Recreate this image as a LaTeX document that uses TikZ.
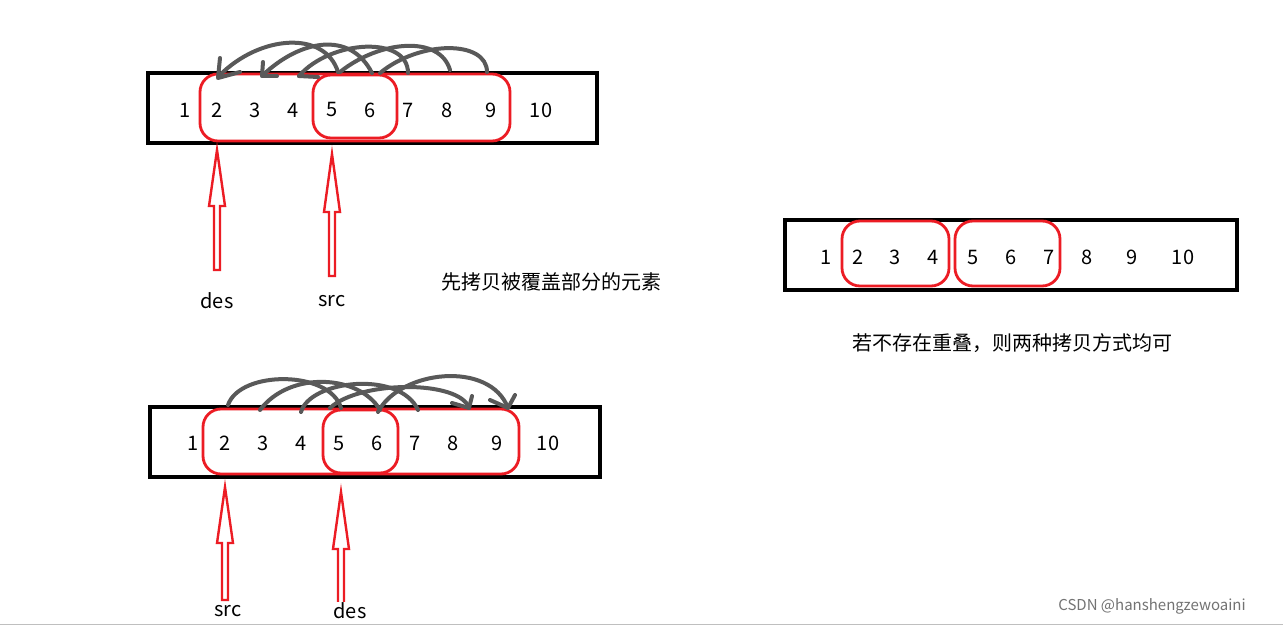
\documentclass[tikz,border=0pt]{standalone}
\usepackage{fontspec}
\setmainfont{Noto Sans CJK SC}
\definecolor{rd}{HTML}{EC1C24}
\begin{document}
\begin{tikzpicture}[x=1pt,y=-1pt,
  num/.style={font=\fontsize{20}{20}\selectfont,inner sep=0pt},
  lab/.style={font=\fontsize{20}{20}\selectfont,inner sep=0pt},
  arr/.style={black,line width=3.5pt},
  grp/.style={draw=rd,line width=2.8pt,rounded corners=18pt},
  cur/.style={draw=black!65,line width=4pt,line cap=round,line join=round},
  up/.style={draw=rd,line width=2.4pt,line join=miter}]
\useasboundingbox (0,0) rectangle (1283,626);
\fill[white] (0,0) rectangle (1283,626);
\draw[black!25,line width=1pt] (0,624.5) -- (1283,624.5);
% ---------- top ----------
\draw[arr] (148,73) rectangle (597,143);
\foreach \t/\x in {1/185,2/217,3/255,4/293,5/332,6/370,7/408,8/447,9/491,10/541}
  \node[num] (t\t) at (\x,110) {\t};
\draw[grp] (200,74) rectangle (510,141);
\draw[grp] (313,75) rectangle (397,138);
\draw[cur] (338,72) .. controls (325,30) and (260,35) .. (220,75);
\draw[cur] (220,58) -- (218,78) -- (240,72);
\draw[cur] (372,73) .. controls (350,30) and (300,40) .. (263,75);
\draw[cur] (263,62) -- (262,76) -- (277,76);
\draw[cur] (408,73) .. controls (408,35) and (330,40) .. (299,76);
\draw[cur] (299,76) -- (318,77);
\draw[cur] (450,70) .. controls (440,35) and (380,40) .. (340,72);
\draw[cur] (487,72) .. controls (487,40) and (420,40) .. (380,73);
\draw[up] (214,270) -- (214,206) -- (209,206) -- (217,150) -- (225,206) -- (220,206) -- (220,270) -- cycle;
\draw[up] (329,276) -- (329,212) -- (324,212) -- (332,154) -- (340,212) -- (335,212) -- (335,276) -- cycle;
\node[lab] (des1) at (217,301) {des};
\node[lab] (src1) at (332,301) {src};
\node[lab] (msg1) at (551,282) {先拷贝被覆盖部分的元素};
% ---------- bottom ----------
\draw[arr] (150,407) rectangle (600,477);
\foreach \t/\x in {1/193,2/225,3/263,4/301,5/339,6/377,7/415,8/453,9/497,10/548}
  \node[num] (b\t) at (\x,443) {\t};
\draw[grp] (203,409) rectangle (519,474);
\draw[grp] (323,410) rectangle (398,473);
\draw[cur] (228,405) .. controls (240,370) and (330,370) .. (341,408);
\draw[cur] (260,410) .. controls (290,370) and (360,375) .. (380,410);
\draw[cur] (301,412) .. controls (310,380) and (400,370) .. (418,410);
\draw[cur] (330,408) .. controls (360,380) and (460,380) .. (469,408);
\draw[cur] (452,403) -- (469,408) -- (472,396);
\draw[cur] (378,412) .. controls (400,370) and (490,360) .. (508,408);
\draw[cur] (490,400) -- (508,408) -- (515,395);
\draw[up] (222,600) -- (222,543) -- (217,543) -- (225,487) -- (233,543) -- (228,543) -- (228,600) -- cycle;
\draw[up] (338,613) -- (338,549) -- (333,549) -- (341,492) -- (349,549) -- (344,549) -- (344,613) -- cycle;
\node[lab,fill=white,inner sep=1pt] (src2) at (228,611) {src};
\node[lab,fill=white,inner sep=1pt] (des2) at (350,611) {des};
% ---------- right ----------
\draw[arr] (785,220) rectangle (1237,290);
\foreach \t/\x in {1/826,2/858,3/895,4/933,5/973,6/1011,7/1049,8/1087,9/1132,10/1183}
  \node[num] (r\t) at (\x,257) {\t};
\draw[grp] (842,221) rectangle (949,286);
\draw[grp] (955,221) rectangle (1060,286);
\node[lab] (msg2) at (1012,343) {若不存在重叠，则两种拷贝方式均可};
\node[font=\fontsize{15}{15}\selectfont,text=black!55,inner sep=0pt] (wm) at (1152,606) {CSDN @hanshengzewoaini};
\end{tikzpicture}
\end{document}
